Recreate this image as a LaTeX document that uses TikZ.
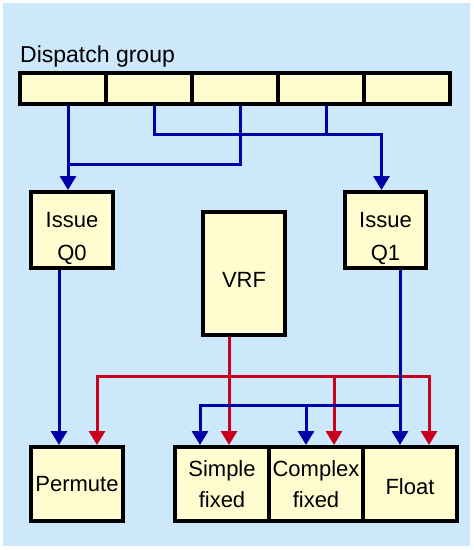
\documentclass[tikz,border=0pt]{standalone}
\usepackage{fontspec}
\setmainfont{Liberation Sans}
\usetikzlibrary{arrows.meta, positioning}

\definecolor{skyback}{HTML}{CCE8FA}
\definecolor{boxfill}{HTML}{FFFCCF}
\definecolor{busblue}{HTML}{0000A8}
\definecolor{busred}{HTML}{C8001E}

\begin{document}
\begin{tikzpicture}[
    x=1pt, y=-1pt,
    font=\fontsize{22}{31}\selectfont,
    % Styles
    unitbox/.style={
        draw, fill=boxfill, line width=4pt, align=center,
        inner sep=0pt
    },
    cell/.style={
        unitbox, minimum width=86pt, minimum height=31pt
    },
    queue/.style={
        unitbox, minimum width=82pt, minimum height=76pt, text height=65pt,
        font=\fontsize{22}{33}\selectfont
    },
    bline/.style={busblue, line width=3pt},
    bus/.style={bline, -{Triangle[width=16pt,length=14pt]}},
    rline/.style={busred, line width=3pt},
    rbus/.style={rline, -{Triangle[width=16pt,length=14pt]}}
]

    \useasboundingbox (0,0) rectangle (474,550);
    \fill[skyback] (3,3) rectangle (470,546);

    % --- Dispatch group ---
    \node[anchor=base west, inner sep=0pt, font=\fontsize{23}{27}\selectfont]
        (title) at (20,62) {Dispatch group};
    \foreach \i in {1,...,5}
        \node[cell] (d\i) at ({63+86*(\i-1)},88.5) {};
    \foreach \i in {1,...,4}
        \coordinate (t\i) at ([xshift=5pt]d\i.south);

    % --- Issue queues and register file ---
    \node[queue] (iq0) at (72,230) {Issue\\Q0};
    \node[queue, minimum width=81pt] (iq1) at (385.5,230) {Issue\\Q1};
    \node[unitbox, minimum width=82pt, minimum height=123pt, text height=28pt] (vrf) at (244,273.5) {VRF};

    % --- Execution units ---
    \node[unitbox, minimum width=92pt, minimum height=74pt] (perm) at (77,484) {Permute};
    \node[unitbox, minimum width=94pt, minimum height=74pt] (simple) at (222,484) {Simple\\fixed};
    \node[unitbox, minimum width=94pt, minimum height=74pt] (complex) at (316,484) {Complex\\fixed};
    \node[unitbox, minimum width=94pt, minimum height=74pt, text height=22pt] (float) at (410,484) {Float};

    % --- Register operands ---
    \coordinate (rj) at ([xshift=-15pt]vrf.south |- 0,376);
    \draw[rbus] ([xshift=-15pt]vrf.south) -- ([xshift=-15pt]vrf.south |- simple.north);
    \draw[rbus] (rj) -| ([xshift=20pt]perm.north);
    \draw[rbus] (rj) -| ([xshift=19pt]float.north);
    \draw[rbus] ([xshift=18pt]complex.north |- rj) -- ([xshift=18pt]complex.north);

    % --- Dispatch to issue queues ---
    \draw[bus] (t1) -- (t1 |- iq0.north);
    \draw[bline] (t3) -- ++(0,58) -| (t1);
    \draw[bus] (t2) -- ++(0,28) -| ([xshift=-4pt]iq1.north);
    \draw[bline] (t4) -- ++(0,28);

    % --- Issue to execution units ---
    \draw[bus] ([xshift=-13pt]iq0.south) -- ([xshift=-13pt]iq0.south |- perm.north);
    \coordinate (bj) at ([xshift=14.5pt]iq1.south |- 0,405);
    \draw[bus] ([xshift=14.5pt]iq1.south) -- ([xshift=14.5pt]iq1.south |- float.north);
    \draw[bus] (bj) -| ([xshift=-22pt]simple.north);
    \draw[bus] ([xshift=-10pt]complex.north |- bj) -- ([xshift=-10pt]complex.north);

\end{tikzpicture}
\end{document}
